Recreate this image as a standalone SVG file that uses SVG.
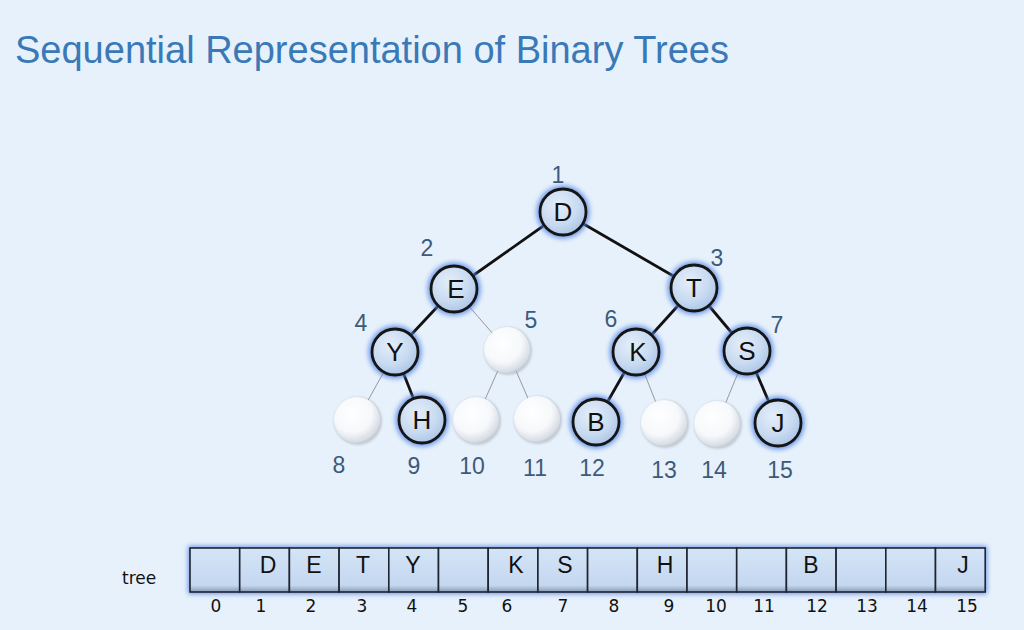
<svg xmlns="http://www.w3.org/2000/svg" width="1024" height="630" viewBox="0 0 1024 630">
<defs>
<radialGradient id="gNode" cx="0.4" cy="0.35" r="0.7">
<stop offset="0" stop-color="#e4eefa"/>
<stop offset="0.6" stop-color="#c9dbf1"/>
<stop offset="1" stop-color="#a9c3e6"/>
</radialGradient>
<radialGradient id="gEmpty" cx="0.4" cy="0.35" r="0.7">
<stop offset="0" stop-color="#ffffff"/>
<stop offset="0.6" stop-color="#f6f8fb"/>
<stop offset="0.9" stop-color="#d8dde4"/>
<stop offset="1" stop-color="#b9c0c9"/>
</radialGradient>
<linearGradient id="gCell" x1="0" y1="0" x2="0" y2="1">
<stop offset="0" stop-color="#d6e5f7"/>
<stop offset="0.85" stop-color="#c3d7f0"/>
<stop offset="1" stop-color="#8a9bb0"/>
</linearGradient>
<filter id="glow" x="-50%" y="-50%" width="200%" height="200%">
<feGaussianBlur stdDeviation="2.5"/>
</filter>
<filter id="soft" x="-50%" y="-50%" width="200%" height="200%">
<feGaussianBlur stdDeviation="1.2"/>
</filter>
</defs>
<style>
.title{font-family:"Liberation Sans",Arial,sans-serif;font-size:38px;fill:#3a79b8}
.num{font-family:"Liberation Sans",Arial,sans-serif;font-size:23px;fill:#3d5a7a;text-anchor:middle}
.lbl{font-family:"Liberation Sans",Arial,sans-serif;font-size:26px;fill:#111;text-anchor:middle}
.cl{font-family:"Liberation Sans",Arial,sans-serif;font-size:23px;fill:#111;text-anchor:middle}
.idx{font-family:"DejaVu Sans",Verdana,sans-serif;font-size:17px;fill:#111;text-anchor:middle}
.tree{font-family:"DejaVu Sans",Verdana,sans-serif;font-size:17px;fill:#111}
.glowc{fill:#5587e6;opacity:0.85}
.fnode{fill:url(#gNode);stroke:#151515;stroke-width:2.8}
.enode{fill:url(#gEmpty)}
.eshadow{fill:#aab3bd;opacity:0.6}
.thick{stroke:#111;stroke-width:2.8;fill:none}
.thin{stroke:#8a8f96;stroke-width:0.9;fill:none}
.cell{fill:url(#gCell);stroke:#1e2430;stroke-width:1.6}
</style>
<rect x="0" y="0" width="1024" height="630" fill="#e7f1fb"/>
<text class="title" x="15" y="63">Sequential Representation of Binary Trees</text>

<g id="connectors">
<line class="thick" x1="563" y1="212" x2="454" y2="289"/>
<line class="thick" x1="563" y1="212" x2="694" y2="288"/>
<line class="thick" x1="454" y1="289" x2="395" y2="352"/>
<line class="thin" x1="454" y1="289" x2="507" y2="350"/>
<line class="thick" x1="694" y1="288" x2="636" y2="352"/>
<line class="thick" x1="694" y1="288" x2="747" y2="351"/>
<line class="thin" x1="395" y1="352" x2="357" y2="420"/>
<line class="thick" x1="395" y1="352" x2="422" y2="420"/>
<line class="thin" x1="507" y1="350" x2="476" y2="420"/>
<line class="thin" x1="507" y1="350" x2="537" y2="419"/>
<line class="thick" x1="636" y1="352" x2="596" y2="422"/>
<line class="thin" x1="636" y1="352" x2="664" y2="423"/>
<line class="thin" x1="747" y1="351" x2="717" y2="424"/>
<line class="thick" x1="747" y1="351" x2="778" y2="423"/>
</g>

<g id="node1"><circle class="glowc" cx="563" cy="212" r="26.5" filter="url(#glow)"/><circle class="fnode" cx="563" cy="212" r="23"/><text class="lbl" x="563" y="221">D</text><text class="num" x="558" y="183">1</text></g>
<g id="node2"><circle class="glowc" cx="454" cy="289" r="26.5" filter="url(#glow)"/><circle class="fnode" cx="454" cy="289" r="23"/><text class="lbl" x="456" y="298">E</text><text class="num" x="427" y="256">2</text></g>
<g id="node3"><circle class="glowc" cx="694" cy="288" r="26.5" filter="url(#glow)"/><circle class="fnode" cx="694" cy="288" r="23"/><text class="lbl" x="694" y="297">T</text><text class="num" x="717" y="266">3</text></g>
<g id="node4"><circle class="glowc" cx="395" cy="352" r="26.5" filter="url(#glow)"/><circle class="fnode" cx="395" cy="352" r="23"/><text class="lbl" x="395" y="361">Y</text><text class="num" x="361" y="331">4</text></g>
<g id="node5"><circle class="eshadow" cx="508" cy="351" r="24" filter="url(#soft)"/><circle class="enode" cx="507" cy="350" r="23"/><text class="num" x="531" y="328">5</text></g>
<g id="node6"><circle class="glowc" cx="636" cy="352" r="26.5" filter="url(#glow)"/><circle class="fnode" cx="636" cy="352" r="23"/><text class="lbl" x="638" y="361">K</text><text class="num" x="611" y="327">6</text></g>
<g id="node7"><circle class="glowc" cx="747" cy="351" r="26.5" filter="url(#glow)"/><circle class="fnode" cx="747" cy="351" r="23"/><text class="lbl" x="747" y="360">S</text><text class="num" x="777" y="333">7</text></g>
<g id="node8"><circle class="eshadow" cx="358" cy="421" r="24" filter="url(#soft)"/><circle class="enode" cx="357" cy="420" r="23"/><text class="num" x="339" y="473">8</text></g>
<g id="node9"><circle class="glowc" cx="422" cy="420" r="26.5" filter="url(#glow)"/><circle class="fnode" cx="422" cy="420" r="23"/><text class="lbl" x="422" y="429">H</text><text class="num" x="414" y="474">9</text></g>
<g id="node10"><circle class="eshadow" cx="477" cy="421" r="24" filter="url(#soft)"/><circle class="enode" cx="476" cy="420" r="23"/><text class="num" x="472" y="474">10</text></g>
<g id="node11"><circle class="eshadow" cx="538" cy="420" r="24" filter="url(#soft)"/><circle class="enode" cx="537" cy="419" r="23"/><text class="num" x="535" y="476">11</text></g>
<g id="node12"><circle class="glowc" cx="596" cy="422" r="26.5" filter="url(#glow)"/><circle class="fnode" cx="596" cy="422" r="23"/><text class="lbl" x="596" y="431">B</text><text class="num" x="592" y="476">12</text></g>
<g id="node13"><circle class="eshadow" cx="665" cy="424" r="24" filter="url(#soft)"/><circle class="enode" cx="664" cy="423" r="23"/><text class="num" x="664" y="478">13</text></g>
<g id="node14"><circle class="eshadow" cx="718" cy="425" r="24" filter="url(#soft)"/><circle class="enode" cx="717" cy="424" r="23"/><text class="num" x="714" y="478">14</text></g>
<g id="node15"><circle class="glowc" cx="778" cy="423" r="26.5" filter="url(#glow)"/><circle class="fnode" cx="778" cy="423" r="23"/><text class="lbl" x="778" y="432">J</text><text class="num" x="780" y="478">15</text></g>

<g id="array">
<text class="tree" x="122" y="584">tree</text>
<rect x="188" y="546" width="799" height="48" fill="#5587e6" opacity="0.85" filter="url(#glow)"/>
<rect class="cell" x="190" y="548" width="49.7" height="44"/>
<rect class="cell" x="239.7" y="548" width="49.7" height="44"/>
<rect class="cell" x="289.4" y="548" width="49.7" height="44"/>
<rect class="cell" x="339.1" y="548" width="49.7" height="44"/>
<rect class="cell" x="388.8" y="548" width="49.7" height="44"/>
<rect class="cell" x="438.5" y="548" width="49.7" height="44"/>
<rect class="cell" x="488.2" y="548" width="49.7" height="44"/>
<rect class="cell" x="537.9" y="548" width="49.7" height="44"/>
<rect class="cell" x="587.6" y="548" width="49.7" height="44"/>
<rect class="cell" x="637.3" y="548" width="49.7" height="44"/>
<rect class="cell" x="687" y="548" width="49.7" height="44"/>
<rect class="cell" x="736.7" y="548" width="49.7" height="44"/>
<rect class="cell" x="786.4" y="548" width="49.7" height="44"/>
<rect class="cell" x="836.1" y="548" width="49.7" height="44"/>
<rect class="cell" x="885.8" y="548" width="49.7" height="44"/>
<rect class="cell" x="935.5" y="548" width="49.7" height="44"/>
<text class="cl" x="268" y="573">D</text>
<text class="cl" x="314" y="573">E</text>
<text class="cl" x="363" y="573">T</text>
<text class="cl" x="413" y="573">Y</text>
<text class="cl" x="516" y="573">K</text>
<text class="cl" x="565" y="573">S</text>
<text class="cl" x="665" y="573">H</text>
<text class="cl" x="811" y="573">B</text>
<text class="cl" x="963" y="573">J</text>
<text class="idx" x="216" y="612">0</text>
<text class="idx" x="261" y="612">1</text>
<text class="idx" x="311" y="612">2</text>
<text class="idx" x="362" y="612">3</text>
<text class="idx" x="412" y="612">4</text>
<text class="idx" x="463" y="612">5</text>
<text class="idx" x="507" y="612">6</text>
<text class="idx" x="563" y="612">7</text>
<text class="idx" x="614" y="612">8</text>
<text class="idx" x="669" y="612">9</text>
<text class="idx" x="716" y="612">10</text>
<text class="idx" x="764" y="612">11</text>
<text class="idx" x="817" y="612">12</text>
<text class="idx" x="867" y="612">13</text>
<text class="idx" x="917" y="612">14</text>
<text class="idx" x="967" y="612">15</text>
</g>
</svg>
